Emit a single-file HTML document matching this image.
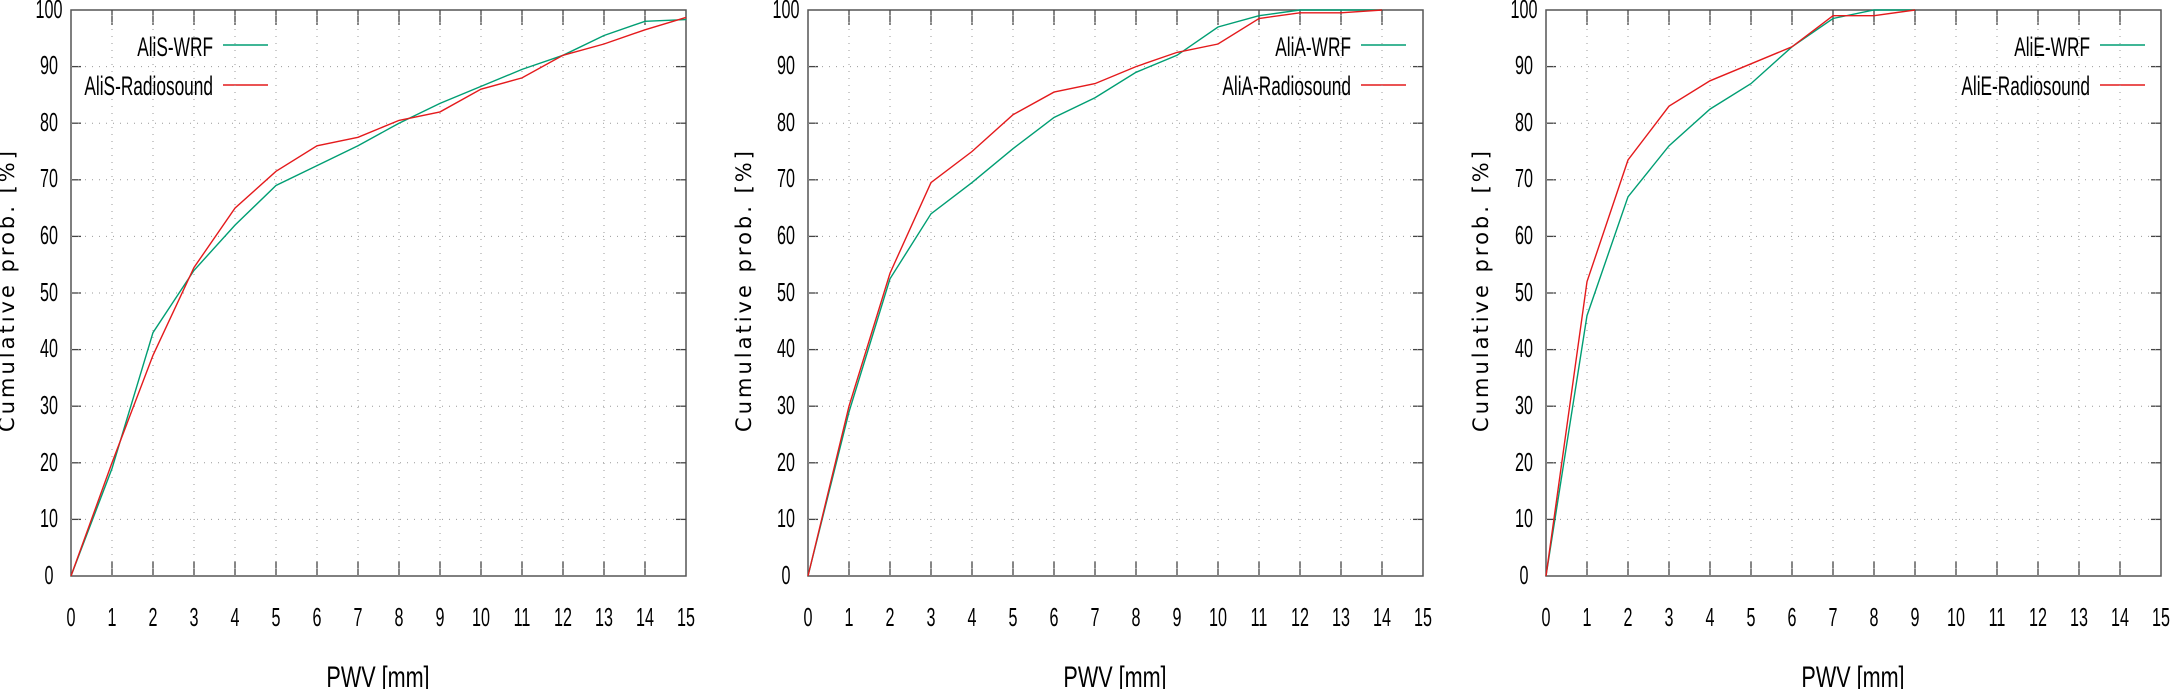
<!DOCTYPE html>
<html><head><meta charset="utf-8"><style>
html,body{margin:0;padding:0;background:#fff;}
svg{display:block;}
.t{font-family:"Liberation Sans Narrow","Liberation Sans",sans-serif;font-size:26px;fill:#000;transform-box:fill-box;transform-origin:center;transform:scaleX(0.62);}
.l{transform-origin:100% 50%;font-size:27px;transform:scaleX(0.64);}
.x{font-size:30px;transform:scaleX(0.72);}
.yl{font-family:"DejaVu Sans","Liberation Sans",sans-serif;font-size:21px;fill:#000;letter-spacing:3px;}
</style></head><body>
<svg id="s" width="2170" height="689" viewBox="0 0 2170 689" xmlns="http://www.w3.org/2000/svg">
<g id="p0" transform="translate(71,0)">
<text class="t" x="0" y="626" text-anchor="middle">0</text><text class="t" x="41" y="626" text-anchor="middle">1</text><text class="t" x="82" y="626" text-anchor="middle">2</text><text class="t" x="123" y="626" text-anchor="middle">3</text><text class="t" x="164" y="626" text-anchor="middle">4</text><text class="t" x="205" y="626" text-anchor="middle">5</text><text class="t" x="246" y="626" text-anchor="middle">6</text><text class="t" x="287" y="626" text-anchor="middle">7</text><text class="t" x="328" y="626" text-anchor="middle">8</text><text class="t" x="369" y="626" text-anchor="middle">9</text><text class="t" x="410" y="626" text-anchor="middle">10</text><text class="t" x="451" y="626" text-anchor="middle">11</text><text class="t" x="492" y="626" text-anchor="middle">12</text><text class="t" x="533" y="626" text-anchor="middle">13</text><text class="t" x="574" y="626" text-anchor="middle">14</text><text class="t" x="615" y="626" text-anchor="middle">15</text>
<text class="t" x="-22" y="584" text-anchor="middle">0</text><text class="t" x="-22" y="527" text-anchor="middle">10</text><text class="t" x="-22" y="471" text-anchor="middle">20</text><text class="t" x="-22" y="414" text-anchor="middle">30</text><text class="t" x="-22" y="357" text-anchor="middle">40</text><text class="t" x="-22" y="301" text-anchor="middle">50</text><text class="t" x="-22" y="244" text-anchor="middle">60</text><text class="t" x="-22" y="187" text-anchor="middle">70</text><text class="t" x="-22" y="131" text-anchor="middle">80</text><text class="t" x="-22" y="74" text-anchor="middle">90</text><text class="t" x="-22" y="18" text-anchor="middle">100</text>
<text class="t x" x="307" y="687" text-anchor="middle">PWV [mm]</text>
<text class="t l" x="142" y="56" text-anchor="end">AliS-WRF</text>
<text class="t l" x="142" y="95" text-anchor="end">AliS-Radiosound</text>
</g>
<text class="yl" transform="translate(14,290) rotate(-90)" text-anchor="middle">Cumulative prob. [%]</text>
<g id="p1" transform="translate(808,0)">
<text class="t" x="0" y="626" text-anchor="middle">0</text><text class="t" x="41" y="626" text-anchor="middle">1</text><text class="t" x="82" y="626" text-anchor="middle">2</text><text class="t" x="123" y="626" text-anchor="middle">3</text><text class="t" x="164" y="626" text-anchor="middle">4</text><text class="t" x="205" y="626" text-anchor="middle">5</text><text class="t" x="246" y="626" text-anchor="middle">6</text><text class="t" x="287" y="626" text-anchor="middle">7</text><text class="t" x="328" y="626" text-anchor="middle">8</text><text class="t" x="369" y="626" text-anchor="middle">9</text><text class="t" x="410" y="626" text-anchor="middle">10</text><text class="t" x="451" y="626" text-anchor="middle">11</text><text class="t" x="492" y="626" text-anchor="middle">12</text><text class="t" x="533" y="626" text-anchor="middle">13</text><text class="t" x="574" y="626" text-anchor="middle">14</text><text class="t" x="615" y="626" text-anchor="middle">15</text>
<text class="t" x="-22" y="584" text-anchor="middle">0</text><text class="t" x="-22" y="527" text-anchor="middle">10</text><text class="t" x="-22" y="471" text-anchor="middle">20</text><text class="t" x="-22" y="414" text-anchor="middle">30</text><text class="t" x="-22" y="357" text-anchor="middle">40</text><text class="t" x="-22" y="301" text-anchor="middle">50</text><text class="t" x="-22" y="244" text-anchor="middle">60</text><text class="t" x="-22" y="187" text-anchor="middle">70</text><text class="t" x="-22" y="131" text-anchor="middle">80</text><text class="t" x="-22" y="74" text-anchor="middle">90</text><text class="t" x="-22" y="18" text-anchor="middle">100</text>
<text class="t x" x="307" y="687" text-anchor="middle">PWV [mm]</text>
<text class="t l" x="543" y="56" text-anchor="end">AliA-WRF</text>
<text class="t l" x="543" y="95" text-anchor="end">AliA-Radiosound</text>
</g>
<text class="yl" transform="translate(751,290) rotate(-90)" text-anchor="middle">Cumulative prob. [%]</text>
<g id="p2" transform="translate(1546,0)">
<text class="t" x="0" y="626" text-anchor="middle">0</text><text class="t" x="41" y="626" text-anchor="middle">1</text><text class="t" x="82" y="626" text-anchor="middle">2</text><text class="t" x="123" y="626" text-anchor="middle">3</text><text class="t" x="164" y="626" text-anchor="middle">4</text><text class="t" x="205" y="626" text-anchor="middle">5</text><text class="t" x="246" y="626" text-anchor="middle">6</text><text class="t" x="287" y="626" text-anchor="middle">7</text><text class="t" x="328" y="626" text-anchor="middle">8</text><text class="t" x="369" y="626" text-anchor="middle">9</text><text class="t" x="410" y="626" text-anchor="middle">10</text><text class="t" x="451" y="626" text-anchor="middle">11</text><text class="t" x="492" y="626" text-anchor="middle">12</text><text class="t" x="533" y="626" text-anchor="middle">13</text><text class="t" x="574" y="626" text-anchor="middle">14</text><text class="t" x="615" y="626" text-anchor="middle">15</text>
<text class="t" x="-22" y="584" text-anchor="middle">0</text><text class="t" x="-22" y="527" text-anchor="middle">10</text><text class="t" x="-22" y="471" text-anchor="middle">20</text><text class="t" x="-22" y="414" text-anchor="middle">30</text><text class="t" x="-22" y="357" text-anchor="middle">40</text><text class="t" x="-22" y="301" text-anchor="middle">50</text><text class="t" x="-22" y="244" text-anchor="middle">60</text><text class="t" x="-22" y="187" text-anchor="middle">70</text><text class="t" x="-22" y="131" text-anchor="middle">80</text><text class="t" x="-22" y="74" text-anchor="middle">90</text><text class="t" x="-22" y="18" text-anchor="middle">100</text>
<text class="t x" x="307" y="687" text-anchor="middle">PWV [mm]</text>
<text class="t l" x="544" y="56" text-anchor="end">AliE-WRF</text>
<text class="t l" x="544" y="95" text-anchor="end">AliE-Radiosound</text>
</g>
<text class="yl" transform="translate(1488,290) rotate(-90)" text-anchor="middle">Cumulative prob. [%]</text>
</svg>
<script>
var NS="http://www.w3.org/2000/svg";
var G="#009e73",R="#e41a1c";
var data=[
 {g:[0,19,43,54,62,69,72.5,76,80,83.5,86.5,89.5,92,95.5,98,98.3],
  r:[0,20,39,54.5,65,71.5,76,77.5,80.5,82,86,88,92,94,96.5,98.7],lx:152},
 {g:[0,29,52.5,64,69.5,75.5,81,84.5,89,92,97,99,100,100,100],
  r:[0,30,53.5,69.5,75,81.5,85.5,87,90,92.5,94,98.5,99.5,99.5,100],lx:553},
 {g:[0,46,67,76,82.5,87,93.5,98.5,100,100],
  r:[0,52,73.5,83,87.5,90.5,93.5,99,99,100],lx:554}];
function el(p,t,a){var e=document.createElementNS(NS,t);for(var k in a)e.setAttribute(k,a[k]);p.insertBefore(e,p.firstChild&&t!=="polyline"?p.firstChild:null);return e;}
var Y0=576,SY=5.66,SX=41;
for(var i=0;i<3;i++){
 var g=document.getElementById("p"+i);
 for(var x=1;x<15;x++)el(g,"line",{x1:x*SX,x2:x*SX,y1:Y0,y2:10,stroke:"#999","stroke-width":1,"stroke-dasharray":"1,6"});
 for(var y=10;y<100;y+=10)el(g,"line",{x1:0,x2:615,y1:Y0-y*SY,y2:Y0-y*SY,stroke:"#999","stroke-width":1,"stroke-dasharray":"1,6"});
 for(var x=1;x<15;x++){el(g,"line",{x1:x*SX,x2:x*SX,y1:Y0,y2:Y0-15,stroke:"#444","stroke-width":1.3});el(g,"line",{x1:x*SX,x2:x*SX,y1:10,y2:25,stroke:"#444","stroke-width":1.3});}
 for(var y=10;y<100;y+=10){el(g,"line",{x1:0,x2:10,y1:Y0-y*SY,y2:Y0-y*SY,stroke:"#444","stroke-width":1.3});el(g,"line",{x1:605,x2:615,y1:Y0-y*SY,y2:Y0-y*SY,stroke:"#444","stroke-width":1.3});}
 el(g,"rect",{x:0,y:10,width:615,height:Y0-10,fill:"none",stroke:"#555","stroke-width":1.5});
 var d=data[i];
 [["g",G],["r",R]].forEach(function(s){
   var pts=d[s[0]].map(function(v,k){return (k*SX)+","+(Y0-v*SY).toFixed(1);}).join(" ");
   el(g,"polyline",{points:pts,fill:"none",stroke:s[1],"stroke-width":1.4});
 });
 el(g,"line",{x1:d.lx,x2:d.lx+45,y1:45,y2:45,stroke:G,"stroke-width":1.5});
 el(g,"line",{x1:d.lx,x2:d.lx+45,y1:85,y2:85,stroke:R,"stroke-width":1.5});
}
</script>
</body></html>
